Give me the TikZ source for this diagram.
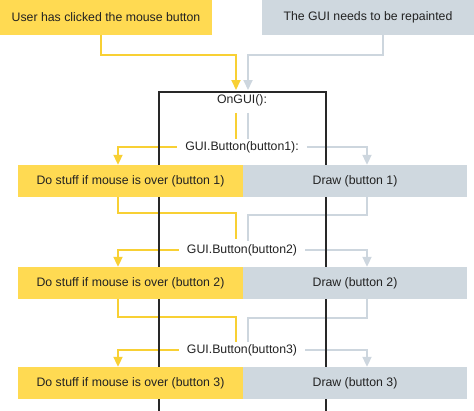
\documentclass[tikz,border=0pt]{standalone}
\usepackage{fontspec}
\setmainfont{Liberation Sans}
\usetikzlibrary{arrows.meta}
\definecolor{yfill}{RGB}{255,218,82}
\definecolor{gfill}{RGB}{207,216,223}
\definecolor{yln}{RGB}{248,208,52}
\definecolor{gln}{RGB}{205,214,222}
\definecolor{txt}{RGB}{34,34,34}
\definecolor{frm}{RGB}{40,40,40}
\pgfdeclarelayer{bgb}
\pgfdeclarelayer{bg}
\pgfsetlayers{bgb,bg,main}
\begin{document}
\begin{tikzpicture}[x=1pt,y=-1pt,
  every node/.style={font=\fontsize{12.3}{14}\selectfont, text=txt},
  band/.style={rectangle, inner sep=0pt, minimum height=32pt},
  topbox/.style={rectangle, inner sep=0pt, minimum width=212pt, minimum height=35pt},
  lbl/.style={inner sep=1pt},
  yline/.style={draw=yln, line width=2pt},
  gline/.style={draw=gln, line width=2pt},
  yarrow/.style={yline, -{Triangle[width=9pt,length=10pt]}},
  garrow/.style={gline, -{Triangle[width=9pt,length=10pt]}},
  frame/.style={draw=frm, line width=1.1pt}]
\useasboundingbox (0,0) rectangle (474,410);
% top boxes
\node[topbox, fill=yfill] (topY) at (106,17.5) {User has clicked the mouse button};
\node[topbox, fill=gfill] (topG) at (368,17.5) {The GUI needs to be repainted};
% labels
\node[lbl] (ongui) at (242,100) {OnGUI():};
\node[lbl] (btn1) at (242,147) {GUI.Button(button1):};
\node[lbl] (btn2) at (242,250) {GUI.Button(button2)};
\node[lbl] (btn3) at (242,350) {GUI.Button(button3)};
% rows
\node[band, fill=yfill, minimum width=225pt] (y1) at (130.5,181) {Do stuff if mouse is over (button 1)};
\node[band, fill=gfill, minimum width=224pt] (g1) at (355,181) {Draw (button 1)};
\node[band, fill=yfill, minimum width=225pt] (y2) at (130.5,283) {Do stuff if mouse is over (button 2)};
\node[band, fill=gfill, minimum width=224pt] (g2) at (355,283) {Draw (button 2)};
\node[band, fill=yfill, minimum width=225pt] (y3) at (130.5,383) {Do stuff if mouse is over (button 3)};
\node[band, fill=gfill, minimum width=224pt] (g3) at (355,383) {Draw (button 3)};
% reference coordinates
\coordinate (xL) at (118,0);
\coordinate (xYC) at (236,0);
\coordinate (xGC) at (248,0);
\coordinate (xR) at (367,0);
\coordinate (yb0) at (236,55);
\coordinate (gb0) at (248,55);
\coordinate (ytip0) at (236,90);
\coordinate (gtip0) at (248,90);
\coordinate (yb1) at (236,213);
\coordinate (gb1) at (248,215);
\coordinate (yb2) at (236,317);
\coordinate (gb2) at (248,318);
\coordinate (fBL) at (159,412);
\coordinate (fTL) at (159,92);
\coordinate (fTR) at (326,92);
\coordinate (fBR) at (326,412);
\begin{pgfonlayer}{bg}
\draw[frame] (fBL) -- (fTL) -- (fTR) -- (fBR);
\end{pgfonlayer}
\begin{pgfonlayer}{bgb}
% from top boxes
\draw[yarrow] ([xshift=-5pt]topY.south) |- (yb0) -- (ytip0);
\draw[garrow] ([xshift=15pt]topG.south) |- (gb0) -- (gtip0);
% OnGUI to button1
\draw[yline, shorten <=6pt, shorten >=1pt] (ongui.south -| xYC) -- (btn1.north -| xYC);
\draw[gline, shorten <=6pt, shorten >=1pt] (ongui.south -| xGC) -- (btn1.north -| xGC);
% button1 to row1
\draw[yarrow] ([xshift=-7pt]btn1.west) -| (y1.north -| xL);
\draw[garrow] ([xshift=7pt]btn1.east) -| (g1.north -| xR);
% row1 to button2
\draw[yline, shorten >=4pt] (y1.south -| xL) |- (yb1) -- (btn2.north -| xYC);
\draw[gline, shorten >=2pt] (g1.south -| xR) |- (gb1) -- (btn2.north -| xGC);
% button2 to row2
\draw[yarrow] ([xshift=-7pt]btn2.west) -| (y2.north -| xL);
\draw[garrow] ([xshift=7pt]btn2.east) -| (g2.north -| xR);
% row2 to button3
\draw[yline, shorten >=1pt] (y2.south -| xL) |- (yb2) -- (btn3.north -| xYC);
\draw[gline, shorten >=1pt] (g2.south -| xR) |- (gb2) -- (btn3.north -| xGC);
% button3 to row3
\draw[yarrow] ([xshift=-7pt]btn3.west) -| (y3.north -| xL);
\draw[garrow] ([xshift=7pt]btn3.east) -| (g3.north -| xR);
\end{pgfonlayer}
\end{tikzpicture}
\end{document}
